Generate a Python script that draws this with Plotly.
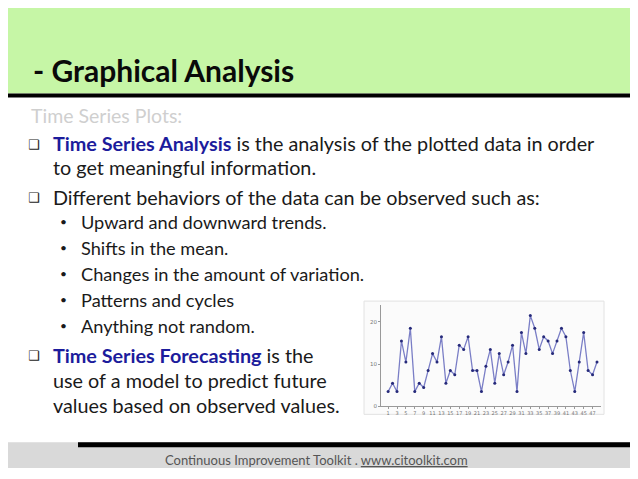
import plotly.graph_objects as go

# the page body has an 8px margin, so the figure is sized to fit inside it
OFF = 8
W, H = 638 - OFF, 479 - 2 * OFF

# time series shown in the small inset plot
periods = list(range(1, 49))
values = [3.5, 5.5, 3.5, 15.5, 10.5, 18.5, 3.5, 5.5, 4.5, 8.5, 12.5, 10.5,
          16.5, 5.5, 8.5, 7.5, 14.5, 13.5, 16.5, 8.5, 8.5, 3.5, 9.5, 13.5,
          5.5, 12.5, 7.5, 10.5, 14.5, 3.5, 17.5, 12.5, 21.5, 18.5, 13.5, 16.5,
          15.5, 12.5, 15.5, 18.5, 16.5, 8.5, 3.5, 10.5, 17.5, 8.5, 7.5, 10.5]
x_ticks = list(range(1, 50, 2))
y_ticks = [0, 10, 20]

sub_bullets = ["Upward and downward trends.", "Shifts in the mean.",
               "Changes in the amount of variation.", "Patterns and cycles",
               "Anything not random."]

BLUE = "#1c1c9c"
FONT = "Lato"
BODY = 19.8


def px(x):
    return (x - OFF) / W


def py(y):
    return 1 - (y - OFF) / H


def rect(x0, y0, x1, y1, fill, **kw):
    return dict(type="rect", xref="paper", yref="paper",
                x0=max(px(x0), 0), x1=min(px(x1), 1),
                y0=max(py(y1), 0), y1=min(py(y0), 1),
                fillcolor=fill, line_width=0, **kw)


fig = go.Figure()

fig.add_trace(go.Scatter(
    x=periods, y=values, mode="lines+markers",
    line=dict(color="#7a7ec6", width=1.3),
    marker=dict(color="#262a7a", size=3),
    hoverinfo="skip", showlegend=False,
))

shapes = [
    rect(0, 0, 638, 94, "#c6f6a6", layer="below"),
    rect(0, 94, 638, 98, "#000000"),
    rect(0, 445, 638, 477, "#d9d9d9", layer="below"),
    rect(78, 445, 638, 450, "#000000"),
    dict(type="rect", xref="paper", yref="paper",
         x0=px(364), x1=px(604), y0=py(417), y1=py(303),
         fillcolor="#fbfbfb", line=dict(color="#e2e2e2", width=1), layer="below"),
]

ann = []


def text(x, y, s, size, color="#1a1a1a", bold=False, font=FONT):
    if bold:
        s = "<b>" + s + "</b>"
    ann.append(dict(x=px(x), y=py(y), xref="paper", yref="paper", text=s,
                    showarrow=False, xanchor="left", yanchor="middle",
                    font=dict(family=font, size=size, color=color)))


text(31, 70, "- Graphical Analysis", 30, color="#0a0a0a", bold=True)
text(29, 116, "Time Series Plots:", 19.5, color="#cfcfcf")

text(26, 145, "❑", 13, font="DejaVu Sans")
text(51, 144, "<span style='color:%s'><b>Time Series Analysis</b></span>"
     " is the analysis of the plotted data in order" % BLUE, BODY)
text(51, 168, "to get meaningful information.", BODY)

text(26, 199, "❑", 13, font="DejaVu Sans")
text(51, 198, "Different behaviors of the data can be observed such as:", BODY)

for i, s in enumerate(sub_bullets):
    y = 223 + i * 26.2
    text(58, y, "•", 12)
    text(79, y, s, 18.2)

text(26, 358, "❑", 13, font="DejaVu Sans")
text(51, 357, "<span style='color:%s'><b>Time Series Forecasting</b></span> is the" % BLUE, BODY)
text(51, 382, "use of a model to predict future", BODY)
text(51, 408, "values based on observed values.", BODY)

ann.append(dict(x=px(316), y=py(463), xref="paper", yref="paper",
                text="Continuous Improvement Toolkit . <u>www.citoolkit.com</u>",
                showarrow=False, xanchor="center", yanchor="middle",
                font=dict(family=FONT, size=13, color="#555555")))

fig.update_layout(
    width=W, height=H, margin=dict(l=0, r=0, t=0, b=0),
    paper_bgcolor="white", plot_bgcolor="rgba(0,0,0,0)",
    shapes=shapes, annotations=ann,
    xaxis=dict(domain=[px(381), px(601)], range=[-0.6, 48.9],
               tickvals=x_ticks, ticks="outside", ticklen=2, tickcolor="#999999",
               showgrid=False, zeroline=False, showline=True, linecolor="#999999",
               tickfont=dict(size=5, color="#777777", family="DejaVu Sans"),
               tickangle=0, fixedrange=True),
    yaxis=dict(domain=[py(409), py(307)], range=[0, 24],
               tickvals=y_ticks, ticks="outside", ticklen=2, tickcolor="#999999",
               showgrid=False, zeroline=False, showline=True, linecolor="#999999",
               tickfont=dict(size=5.5, color="#777777", family="DejaVu Sans"),
               fixedrange=True),
)

fig.write_html("out.html")
